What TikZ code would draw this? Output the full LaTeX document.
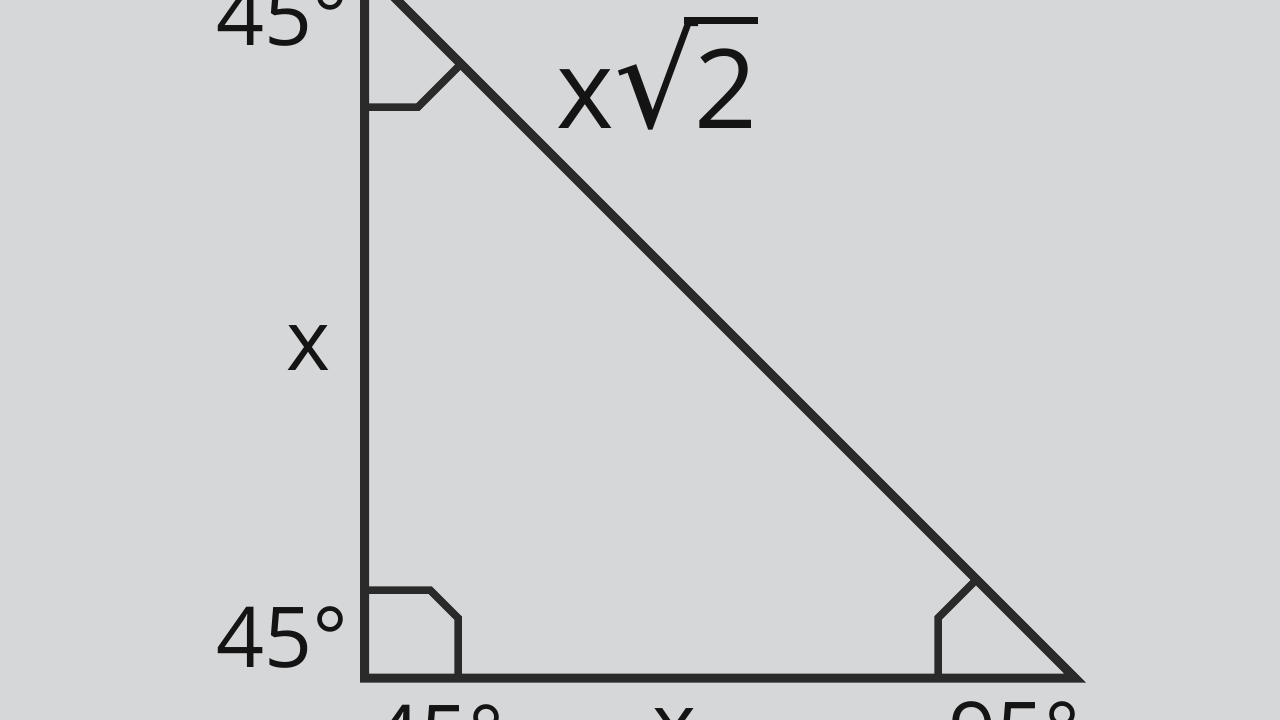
\documentclass[tikz,border=0pt]{standalone}
\usepackage{fontspec}
\setmainfont{Open Sans}
\newfontfamily\symfont{DejaVu Sans}
\definecolor{bg}{HTML}{D6D7D8}
\definecolor{ink}{HTML}{2A2A2A}
\definecolor{txt}{HTML}{141414}
\begin{document}
\begin{tikzpicture}[x=1pt,y=-1pt,
  edge/.style={draw=ink,line width=9pt,line join=miter,miter limit=20},
  anglemark/.style={draw=ink,line width=7.5pt,line join=miter},
  lbl/.style={anchor=base west,inner sep=0pt,text=txt,font=\fontsize{84}{90}\selectfont},
  big/.style={anchor=base west,inner sep=0pt,text=txt,font=\fontsize{110}{120}\selectfont}]
\useasboundingbox (0,0) rectangle (1280,720);
\fill[bg] (0,0) rectangle (1280,720);
\clip (0,0) rectangle (1280,720);
\coordinate (A) at (364.5,-32.5);
\coordinate (B) at (364.5,678);
\coordinate (C) at (1075,678);
\draw[edge] (A) -- (B) -- (C) -- cycle;
% angle markers
\coordinate (t1) at (364,107);
\coordinate (t2) at (418,107);
\coordinate (t3) at (461,64);
\draw[anglemark] (t1) -- (t2) -- (t3);
\coordinate (l1) at (364,590);
\coordinate (l2) at (430,590);
\coordinate (l3) at (458,618);
\coordinate (l4) at (458,678);
\draw[anglemark] (l1) -- (l2) -- (l3) -- (l4);
\coordinate (r1) at (938,678);
\coordinate (r2) at (938,618);
\coordinate (r3) at (976.5,579.5);
\draw[anglemark] (r1) -- (r2) -- (r3);
% labels
\node[lbl] (aTop) at (216,45) {45°};
\node[lbl] (aLeft) at (216,667) {45°};
\node[lbl] (sLeft) at (286,370) {x};
\node[big] (hx) at (556,128) {x};
\node[anchor=base west,inner sep=0pt,text=txt,font=\symfont\fontsize{132}{140}\selectfont] (hr) at (614,127) {√};
\node[big] (h2) at (694,128) {2};
\coordinate (o1) at (684,20);
\coordinate (o2) at (758,20);
\draw[txt,line width=7pt] (o1) -- (o2);
\node[lbl] (aBot) at (372,765) {45°};
\node[lbl] (sBot) at (652,753) {x};
\node[lbl] (aRight) at (948,762) {95°};
\end{tikzpicture}
\end{document}
